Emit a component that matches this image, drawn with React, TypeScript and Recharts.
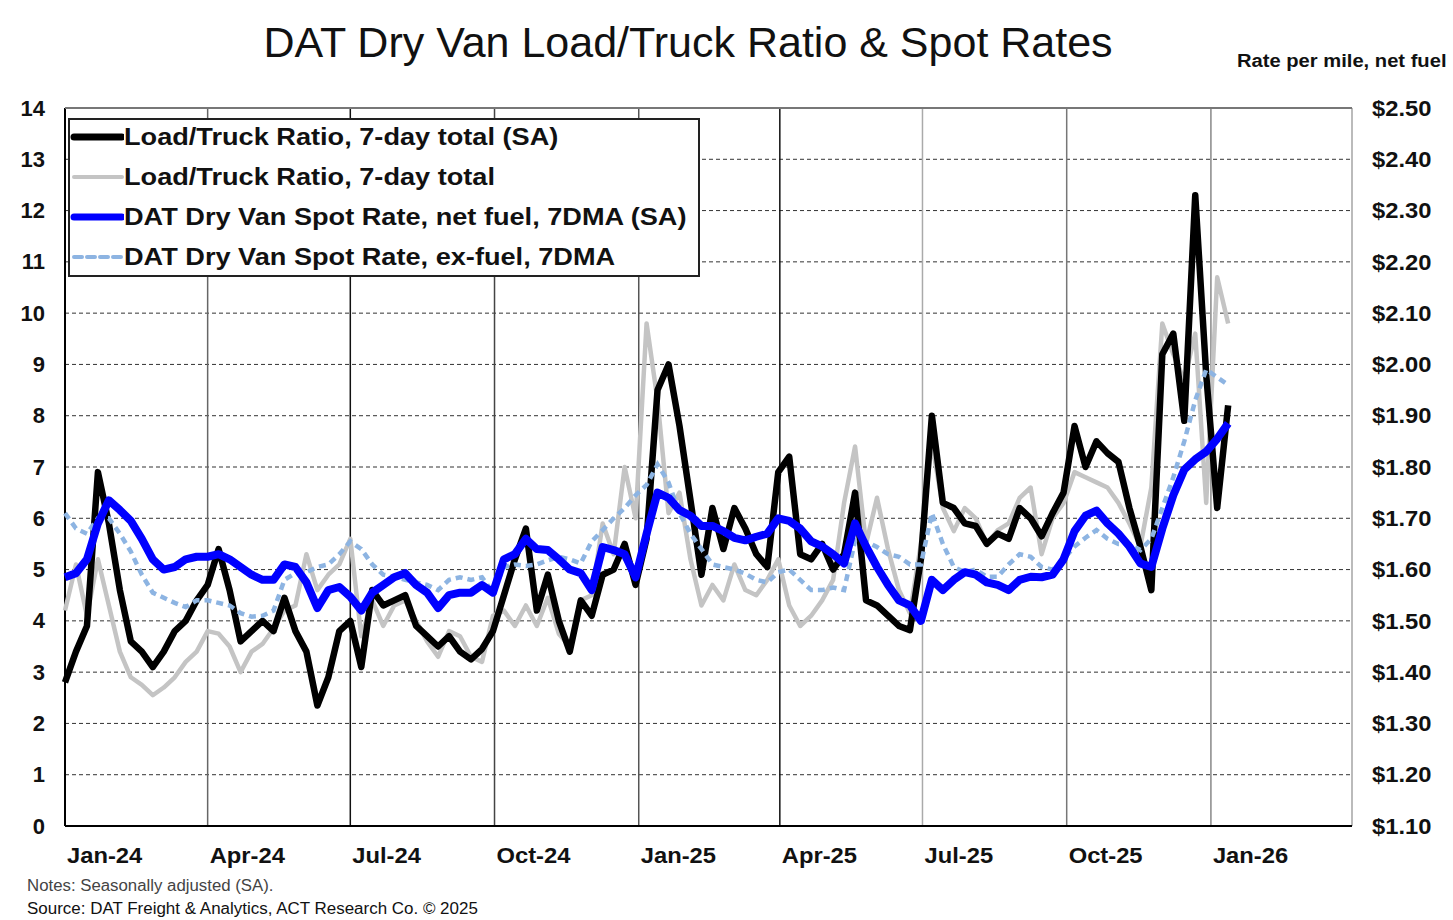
import React from 'react';
import { LineChart, Line, XAxis, YAxis, CartesianGrid, ReferenceLine } from 'recharts';

// weekly observations, first week starting Jan 1 2024
const loadTruckSA = [
  2.8, 3.4, 3.9, 6.9, 5.9, 4.6, 3.6, 3.4, 3.1, 3.4, 3.8, 4.0, 4.4, 4.7, 5.4, 4.6, 3.6, 3.8, 4.0, 3.8,
  4.45, 3.8, 3.4, 2.35, 2.9, 3.8, 4.0, 3.1, 4.6, 4.3, 4.4, 4.5, 3.9, 3.7, 3.5, 3.7, 3.4, 3.25, 3.45, 3.8,
  4.5, 5.2, 5.8, 4.2, 4.9, 4.0, 3.4, 4.4, 4.1, 4.9, 5.0, 5.5, 4.7, 5.6, 8.5, 9.0, 7.8, 6.35, 4.9, 6.2,
  5.4, 6.2, 5.8, 5.3, 5.05, 6.9, 7.2, 5.3, 5.2, 5.5, 5.0, 5.3, 6.5, 4.4, 4.3, 4.1, 3.9, 3.82, 5.2, 8.0,
  6.3, 6.2, 5.9, 5.85, 5.5, 5.7, 5.6, 6.2, 6.0, 5.65, 6.1, 6.5, 7.8, 7.0, 7.5, 7.27, 7.1, 6.2, 5.45, 4.6,
  9.2, 9.6, 7.9, 12.3, 8.8, 6.2, 8.2,
];

const loadTruckNSA = [
  4.2, 5.1, 4.1, 5.2, 4.3, 3.4, 2.9, 2.75, 2.55, 2.7, 2.9, 3.2, 3.4, 3.8, 3.75, 3.5, 3.0, 3.4, 3.55, 3.85,
  4.2, 4.3, 5.3, 4.6, 4.9, 5.1, 5.6, 3.7, 4.4, 3.9, 4.3, 4.4, 4.0, 3.6, 3.3, 3.8, 3.7, 3.3, 3.2, 4.1,
  4.2, 3.9, 4.3, 3.9, 4.45, 3.75, 3.5, 4.4, 4.5, 5.9, 5.3, 7.0, 6.0, 9.8, 8.3, 6.1, 6.5, 5.2, 4.3, 4.7,
  4.4, 5.1, 4.6, 4.5, 4.8, 5.2, 4.3, 3.9, 4.1, 4.4, 4.8, 6.3, 7.4, 5.5, 6.4, 5.4, 4.6, 4.15, 5.5, 7.5,
  6.2, 5.75, 6.2, 6.0, 5.5, 5.77, 5.9, 6.4, 6.6, 5.3, 6.0, 6.3, 6.9, 6.8, 6.7, 6.6, 6.3, 5.9, 5.45, 6.6,
  9.8, 9.2, 8.7, 9.6, 6.3, 10.7, 9.8,
];

const spotNetFuelSA = [
  1.585, 1.593, 1.62, 1.69, 1.735, 1.716, 1.695, 1.66, 1.62, 1.6, 1.605, 1.62, 1.625, 1.625, 1.63, 1.62, 1.605, 1.59, 1.58, 1.58,
  1.61, 1.605, 1.575, 1.525, 1.56, 1.566, 1.547, 1.52, 1.555, 1.57, 1.585, 1.593, 1.57, 1.555, 1.525, 1.55, 1.555, 1.555, 1.57, 1.555,
  1.62, 1.63, 1.66, 1.64, 1.638, 1.62, 1.6, 1.593, 1.56, 1.644, 1.638, 1.63, 1.585, 1.67, 1.75, 1.74, 1.716, 1.705, 1.685, 1.685,
  1.675, 1.662, 1.657, 1.664, 1.67, 1.7, 1.695, 1.68, 1.655, 1.645, 1.63, 1.612, 1.69, 1.645, 1.605, 1.57, 1.54, 1.53, 1.5, 1.58,
  1.56, 1.58, 1.595, 1.59, 1.575, 1.57, 1.56, 1.58, 1.586, 1.585, 1.59, 1.62, 1.675, 1.705, 1.715, 1.69, 1.67, 1.645, 1.612, 1.605,
  1.68, 1.745, 1.795, 1.815, 1.83, 1.855, 1.885,
];

const spotExFuel = [
  1.71, 1.68, 1.67, 1.7, 1.7, 1.67, 1.635, 1.59, 1.555, 1.545, 1.535, 1.527, 1.54, 1.54, 1.535, 1.53, 1.515, 1.508, 1.51, 1.52,
  1.58, 1.593, 1.595, 1.605, 1.61, 1.63, 1.655, 1.64, 1.61, 1.59, 1.586, 1.58, 1.575, 1.57, 1.56, 1.58, 1.585, 1.58, 1.585, 1.555,
  1.605, 1.61, 1.607, 1.61, 1.618, 1.625, 1.62, 1.612, 1.655, 1.677, 1.7, 1.72, 1.745, 1.765, 1.805, 1.77, 1.71, 1.67, 1.64, 1.61,
  1.605, 1.6, 1.592, 1.58, 1.575, 1.595, 1.6, 1.58, 1.56, 1.56, 1.565, 1.56, 1.657, 1.655, 1.644, 1.63, 1.625, 1.61, 1.61, 1.71,
  1.65, 1.605, 1.595, 1.6, 1.586, 1.586, 1.61, 1.63, 1.625, 1.605, 1.6, 1.62, 1.645, 1.662, 1.677, 1.66, 1.65, 1.65, 1.638, 1.66,
  1.72, 1.78, 1.85, 1.93, 1.99, 1.975, 1.96,
];

// quarter starts, in days since Jan 1 2024
const quarterDays = [0, 91, 182, 274, 366, 456, 547, 639, 731];
const quarterLabels = ['Jan-24', 'Apr-24', 'Jul-24', 'Oct-24', 'Jan-25', 'Apr-25', 'Jul-25', 'Oct-25', 'Jan-26'];
const ratioTicks = [0, 1, 2, 3, 4, 5, 6, 7, 8, 9, 10, 11, 12, 13, 14];
const rateTicks = [1.1, 1.2, 1.3, 1.4, 1.5, 1.6, 1.7, 1.8, 1.9, 2.0, 2.1, 2.2, 2.3, 2.4, 2.5];

const data = loadTruckSA.map((v, i) => ({
  day: i * 7,
  sa: v,
  nsa: loadTruckNSA[i],
  rate: spotNetFuelSA[i],
  exFuel: spotExFuel[i],
}));

const FONT = '"Liberation Sans", Arial, sans-serif';
const quarterStroke = ['#000', '#666', '#111', '#444', '#555', '#111', '#aaa', '#777', '#888'];

const legendItems = [
  { label: 'Load/Truck Ratio, 7-day total (SA)', color: '#000', width: 7, dash: '' },
  { label: 'Load/Truck Ratio, 7-day total', color: '#c4c4c4', width: 4, dash: '' },
  { label: 'DAT Dry Van Spot Rate, net fuel, 7DMA (SA)', color: '#0000ff', width: 7, dash: '' },
  { label: 'DAT Dry Van Spot Rate, ex-fuel, 7DMA', color: '#8db4e2', width: 4, dash: '8 5' },
];

const LeftTick = (props: any) => (
  <text x={props.x} y={props.y} textAnchor="end" dominantBaseline="central" fontFamily={FONT} fontWeight={700} fontSize={22} fill="#111">
    {props.payload.value}
  </text>
);

const RightTick = (props: any) => (
  <g transform={`translate(${props.x + 2},${props.y}) scale(1.08,1)`}>
    <text x={0} y={0} textAnchor="start" dominantBaseline="central" fontFamily={FONT} fontWeight={700} fontSize={22} fill="#111">
      {'$' + Number(props.payload.value).toFixed(2)}
    </text>
  </g>
);

const BottomTick = (props: any) => {
  const idx = quarterDays.indexOf(props.payload.value);
  return (
    <g transform={`translate(${props.x + 2},${props.y + 17}) scale(1.08,1)`}>
      <text x={0} y={0} textAnchor="start" fontFamily={FONT} fontWeight={700} fontSize={22} fill="#111">
        {quarterLabels[idx]}
      </text>
    </g>
  );
};

const App: React.FC = () => {
  return (
    <div style={{ position: 'absolute', left: 0, top: 0, width: 1453, height: 920, background: '#fff', fontFamily: FONT }}>
      <div style={{ position: 'absolute', left: 0, width: 1376, top: 18, textAlign: 'center', fontSize: 43, color: '#111' }}>
        DAT Dry Van Load/Truck Ratio &amp; Spot Rates
      </div>
      <div
        style={{
          position: 'absolute',
          left: 1237,
          top: 51,
          fontSize: 18,
          fontWeight: 700,
          color: '#111',
          whiteSpace: 'nowrap',
          transform: 'scaleX(1.12)',
          transformOrigin: 'left center',
        }}
      >
        Rate per mile, net fuel
      </div>
      <LineChart width={1453} height={920} data={data} margin={{ top: 108, right: 11, bottom: 54, left: 15 }}>
        <CartesianGrid yAxisId="l" vertical={false} stroke="#333" strokeDasharray="4 3" />
        <XAxis
          dataKey="day"
          type="number"
          domain={[0, 821]}
          ticks={quarterDays}
          axisLine={false}
          tickLine={false}
          tickSize={0}
          tickMargin={20}
          height={40}
          tick={<BottomTick />}
          interval={0}
        />
        <YAxis
          yAxisId="l"
          domain={[0, 14]}
          ticks={ratioTicks}
          axisLine={false}
          tickLine={false}
          tickSize={0}
          tickMargin={20}
          width={50}
          tick={<LeftTick />}
          interval={0}
        />
        <YAxis
          yAxisId="r"
          orientation="right"
          domain={[1.1, 2.5]}
          ticks={rateTicks}
          axisLine={false}
          tickLine={false}
          tickSize={0}
          tickMargin={18}
          width={90}
          tick={<RightTick />}
          interval={0}
        />
        {quarterDays.map((d, i) => (
          <ReferenceLine key={d} yAxisId="l" x={d} stroke={quarterStroke[i]} strokeWidth={i === 0 ? 2 : 1.5} />
        ))}
        <ReferenceLine yAxisId="l" x={821} stroke="#bbb" strokeWidth={2} />
        <ReferenceLine yAxisId="l" y={14} stroke="#777" strokeWidth={2} />
        <ReferenceLine yAxisId="l" y={0} stroke="#000" strokeWidth={2} />
        <Line yAxisId="l" dataKey="nsa" stroke="#c4c4c4" strokeWidth={4.5} dot={false} isAnimationActive={false} strokeLinejoin="round" />
        <Line yAxisId="l" dataKey="sa" stroke="#000" strokeWidth={6.5} dot={false} isAnimationActive={false} strokeLinejoin="round" />
        <Line yAxisId="r" dataKey="exFuel" stroke="#8db4e2" strokeWidth={4.5} strokeDasharray="7 5" dot={false} isAnimationActive={false} />
        <Line yAxisId="r" dataKey="rate" stroke="#0000ff" strokeWidth={8} dot={false} isAnimationActive={false} strokeLinejoin="round" />
      </LineChart>
      <div
        style={{
          position: 'absolute',
          left: 68,
          top: 118,
          width: 628,
          height: 155,
          border: '2px solid #222',
          background: '#fff',
        }}
      >
        {legendItems.map((it, i) => (
          <div key={it.label} style={{ position: 'absolute', left: 0, top: 2 + i * 40, height: 30, display: 'flex', alignItems: 'center' }}>
            <svg width={54} height={30} style={{ display: 'block' }}>
              <line x1={4} x2={52} y1={15} y2={15} stroke={it.color} strokeWidth={it.width} strokeDasharray={it.dash} strokeLinecap="round" />
            </svg>
            <span
              style={{
                fontSize: 23,
                fontWeight: 700,
                color: '#111',
                whiteSpace: 'nowrap',
                display: 'inline-block',
                transform: 'scaleX(1.18)',
                transformOrigin: 'left center',
              }}
            >
              {it.label}
            </span>
          </div>
        ))}
      </div>
      <div style={{ position: 'absolute', left: 27, top: 877, fontSize: 16, color: '#444', whiteSpace: 'nowrap', transform: 'scaleX(1.05)', transformOrigin: 'left center' }}>
        Notes: Seasonally adjusted (SA).
      </div>
      <div style={{ position: 'absolute', left: 27, top: 900, fontSize: 16, color: '#111', whiteSpace: 'nowrap', transform: 'scaleX(1.06)', transformOrigin: 'left center' }}>
        Source: DAT Freight &amp; Analytics, ACT Research Co. © 2025
      </div>
    </div>
  );
};

export default App;
